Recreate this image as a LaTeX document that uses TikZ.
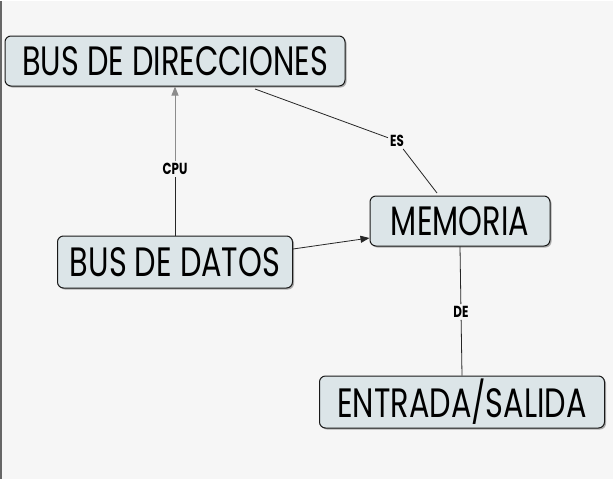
\documentclass[tikz,border=0pt]{standalone}
\usepackage{fontspec}
\setmainfont[FakeStretch=0.74]{Poppins}
\usetikzlibrary{arrows.meta,shadows}
\definecolor{bg}{HTML}{F6F6F6}
\definecolor{nodefill}{HTML}{DCE5E8}
\begin{document}
\begin{tikzpicture}[x=1pt,y=-1pt,
  concept/.style={draw=black!90,line width=1pt,fill=nodefill,rounded corners=6pt,
    font=\fontsize{41}{42}\selectfont,inner sep=0pt,
    drop shadow={shadow xshift=1.5pt,shadow yshift=-1.5pt,opacity=0.5,fill=black!60}},
  lbl/.style={font=\bfseries\fontsize{16}{17}\selectfont,fill=bg,inner sep=2pt},
  conn/.style={line width=0.8pt,draw=black!85},
  arr/.style={conn,-{Triangle[length=9pt,width=7pt]}}]
\fill[bg] (0,0) rectangle (613,478);
\draw[black!60,line width=2pt] (1,0) -- (1,478);
\node[concept,minimum width=340pt,minimum height=50pt] (dir) at (175,60) {BUS DE DIRECCIONES};
\node[concept,minimum width=180pt,minimum height=50pt] (mem) at (460,220) {MEMORIA};
\node[concept,minimum width=235pt,minimum height=52pt] (dat) at (175,261) {BUS DE DATOS};
\node[concept,minimum width=285pt,minimum height=52pt] (es) at (462,401) {ENTRADA/SALIDA};
\node[lbl] (cpu) at (175,168) {CPU};
\node[lbl] (esl) at (397,140) {ES};
\node[lbl] (de) at (461,311) {DE};
\draw[conn] (dat.north) -- (cpu);
\draw[arr,draw=black!45] (cpu) -- (dir.south);
\draw[conn] (255,88) -- (esl);
\draw[conn] (esl) -- (437,192);
\draw[arr] (dat.east |- 0,248) -- (mem.west |- 0,237);
\draw[conn] (mem.south) -- (de);
\draw[conn] (de) -- (es.north);
\end{tikzpicture}
\end{document}
